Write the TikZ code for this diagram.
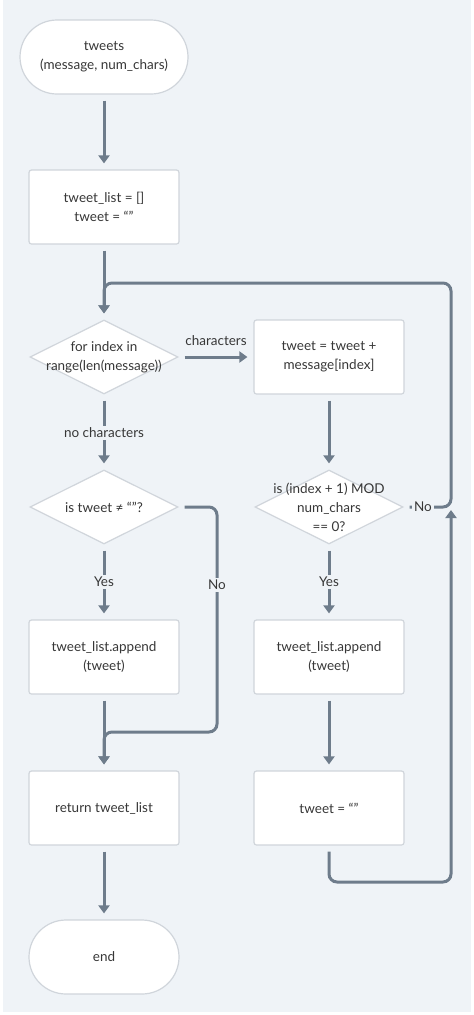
\documentclass[tikz,border=0pt]{standalone}
\usepackage{fontspec}
\setmainfont{Lato}
\usetikzlibrary{arrows.meta,shapes.geometric}
\definecolor{bgc}{RGB}{239,243,247}
\definecolor{lnc}{RGB}{110,124,139}
\definecolor{bdc}{RGB}{208,213,219}
\definecolor{txc}{RGB}{55,55,55}
\begin{document}
\begin{tikzpicture}[x=1pt,y=-1pt,
 font=\fontsize{13.5}{19}\selectfont, text=txc,
 box/.style={draw=bdc, line width=1.2pt, fill=white, rounded corners=2.5pt, minimum width=150pt, minimum height=74pt, align=center, inner sep=0pt},
 term/.style={box, rounded corners=37pt},
 dia/.style={diamond, draw=bdc, line width=1.2pt, fill=white, minimum width=148pt, minimum height=74pt, inner sep=0pt},
 txt/.style={align=center, inner sep=0pt},
 conn/.style={draw=lnc, line width=3pt, rounded corners=8pt, shorten <=6pt},
 arr/.style={conn, -{Triangle[width=11pt,length=8pt]}, shorten >=6pt},
 lbl/.style={fill=bgc, inner sep=2pt, text=txc}
]
\useasboundingbox (0,0) rectangle (474,1015);
\fill[white] (0,0) rectangle (474,1015);
\fill[bgc] (3,0) rectangle (471,1012);

% nodes
\node[term, minimum width=168pt] (start) at (104,57) {tweets\\(message, num\_chars)};
\node[box] (init) at (104,207) {tweet\_list = []\\tweet = “”};
\node[dia] (loop) at (104,357) {};
\node[txt] (looptxt) at (loop) {for index in\\range(len(message))};
\node[box] (add) at (329,357) {tweet = tweet +\\message[index]};
\node[dia] (check) at (104,507) {};
\node[txt] (checktxt) at (check) {is tweet ≠ “”?};
\node[dia] (mod) at (329,507) {};
\node[txt] (modtxt) at (mod) {is (index + 1) MOD\\num\_chars\\== 0?};
\node[box] (app1) at (104,657) {tweet\_list.append\\(tweet)};
\node[box] (app2) at (329,657) {tweet\_list.append\\(tweet)};
\node[box] (ret) at (104,808) {return tweet\_list};
\node[box] (reset) at (329,808) {tweet = “”};
\node[term] (end) at (104,957) {end};

\coordinate (loopR) at (451,283);
\coordinate (noL) at (217,732);
\coordinate (retR) at (451,882);
\coordinate (upEnd) at (451,510);

% connectors
\draw[arr] (start) -- (init);
\draw[arr] (init) -- (loop);
\draw[arr] (mod.east) -| (loopR) -- (loopR -| loop.north) -- (loop.north);
\draw[arr] (loop.east) -- (add.west);
\draw[arr] (loop) -- (check);
\draw[arr] (add) -- (mod);
\draw[arr] (check) -- (app1);
\draw[arr] (mod) -- (app2);
\draw[arr] (check.east) -| (noL) -| (ret.north);
\draw[arr] (app1) -- (ret);
\draw[arr] (app2) -- (reset);
\draw[arr, shorten >=0pt] (reset.south) |- (retR) -- (upEnd);
\draw[arr] (ret) -- (end);

% labels
\node[txt] (lchar) at (216,341) {characters};
\node[lbl] (lnochar) at (104,433) {no characters};
\node[lbl] (lyes1) at (104,582) {Yes};
\node[lbl] (lyes2) at (329,582) {Yes};
\node[lbl] (lno1) at (217,585) {No};
\node[lbl] (lno2) at (423,507) {No};
\end{tikzpicture}
\end{document}
